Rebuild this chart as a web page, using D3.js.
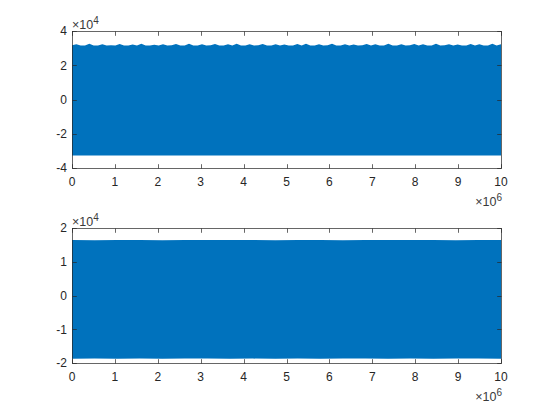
<!DOCTYPE html>
<html><head><meta charset="utf-8">
<script src="https://cdn.jsdelivr.net/npm/d3@7"></script>
<style>body{margin:0;background:#fff}svg{display:block}</style>
</head><body>
<svg id="c" width="554" height="415"></svg>
<script>
// envelope of the dense signal, read per segment across the x range (0..1e7)
const topMax = [31700,32300,31500,31600,32500,31500,31600,32200,31500,31700,
31500,32400,31600,31500,32100,31500,32600,31600,31500,32000,
31500,32300,31500,31700,32400,31500,31600,32500,31500,31600,
32200,31500,31700,32400,31500,31600,32300,31500,32500,31600,
31500,32200,31500,31700,32400,31500,31600,32300,31500,32100,
31600,31500,32400,31500,32600,31500,31600,32200,31500,31700,
32500,31500,31600,32300,31500,32100,31500,31700,32400,31500,
32200,31600,31500,32500,31500,31600,32300,31500,31700,32400,
31500,32200,31600,31500,32500,31500,31700,32300,31500,32100,
31600,31500,32400,31500,32200,31600,31500,32500,31600,32300];
const topMin = [-32700,-32720,-32680,-32700,-32740,-32700,-32690,-32710,-32700,-32700,
-32720,-32700,-32690,-32700,-32730,-32700,-32700,-32710,-32690,-32700];
const botMax = [16420,16400,16430,16440,16400,16420,16410,16440,16420,16400,
16420,16440,16400,16420,16410,16420,16440,16400,16420,16410];
const botMin = [-18720,-18700,-18730,-18700,-18720,-18700,-18690,-18720,-18700,-18730,
-18700,-18720,-18700,-18700,-18730,-18700,-18720,-18700,-18700,-18720];
const xTicks = [0,1,2,3,4,5,6,7,8,9,10];
const yTicksTop = [-4,-2,0,2,4];
const yTicksBot = [-2,-1,0,1,2];

const svg = d3.select('#c');
const blue = '#0072BD', axc = '#262626';
const font = '"Liberation Sans", Arial, sans-serif';
const fs = 12;

function panel(y0, y1, maxArr, minArr, yDom, yTicks){
  const x = d3.scaleLinear().domain([0,1e7]).range([72,501]);
  const y = d3.scaleLinear().domain(yDom).range([y1,y0]);
  const g = svg.append('g');
  const seg = (arr)=>arr.map((v,i)=>({x: i*1e7/(arr.length-1), v}));
  const up = seg(maxArr), lo = seg(minArr);
  const loFn = d3.scaleLinear().domain(lo.map(d=>d.x)).range(lo.map(d=>d.v));
  const pts = up.map(d=>({x:d.x, hi:d.v, lo:loFn(d.x)}));
  const area = d3.area().x(d=>x(d.x)).y0(d=>y(d.lo)).y1(d=>y(d.hi)).curve(d3.curveLinear);
  g.append('path').datum(pts).attr('d',area).attr('fill',blue);
  g.append('rect').attr('x',72.5).attr('y',y0+0.5).attr('width',429).attr('height',y1-y0)
    .attr('fill','none').attr('stroke',axc).attr('stroke-width',0.7);
  const tl = 4.3;
  xTicks.forEach(t=>{
    const px = Math.round(x(t*1e6))+0.5;
    g.append('line').attr('x1',px).attr('x2',px).attr('y1',y1+0.5).attr('y2',y1+0.5-tl).attr('stroke',axc).attr('stroke-width',0.7);
    g.append('line').attr('x1',px).attr('x2',px).attr('y1',y0+0.5).attr('y2',y0+0.5+tl).attr('stroke',axc).attr('stroke-width',0.7);
    g.append('text').attr('x',x(t*1e6)).attr('y',y1+18).attr('text-anchor','middle')
      .attr('font-family',font).attr('font-size',fs).attr('fill',axc).text(t);
  });
  yTicks.forEach(t=>{
    const py = Math.round(y(t*1e4))+0.5;
    g.append('line').attr('x1',72.5).attr('x2',72.5+tl).attr('y1',py).attr('y2',py).attr('stroke',axc).attr('stroke-width',0.7);
    g.append('line').attr('x1',501.5).attr('x2',501.5-tl).attr('y1',py).attr('y2',py).attr('stroke',axc).attr('stroke-width',0.7);
    g.append('text').attr('x',67).attr('y',y(t*1e4)+4.3).attr('text-anchor','end')
      .attr('font-family',font).attr('font-size',fs).attr('fill',axc).text(t);
  });
  const ey = g.append('text').attr('x',72).attr('y',y0-2).attr('font-family',font).attr('font-size',12.5).attr('fill','#3a3a3a');
  ey.append('tspan').text('\u00d710');
  ey.append('tspan').attr('dy',-5).attr('font-size',10).text('4');
  const ex = g.append('text').attr('x',502).attr('y',y1+38).attr('text-anchor','end').attr('font-family',font).attr('font-size',12.5).attr('fill','#3a3a3a');
  ex.append('tspan').text('\u00d710');
  ex.append('tspan').attr('dy',-5).attr('font-size',10).text('6');
}
panel(31,168,topMax,topMin,[-4e4,4e4],yTicksTop);
panel(228,363,botMax,botMin,[-2e4,2e4],yTicksBot);
</script>
</body></html>
